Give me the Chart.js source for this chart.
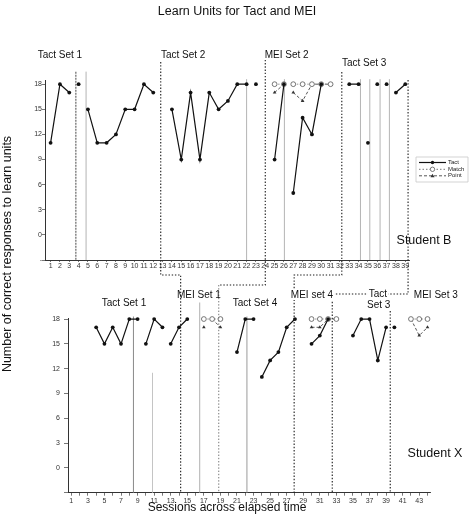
<!DOCTYPE html>
<html><head><meta charset="utf-8">
<script src="https://cdn.jsdelivr.net/npm/chart.js@4.4.1/dist/chart.umd.min.js"></script>
<style>
html,body{margin:0;padding:0;background:#fff;}
#wrap{position:relative;width:474px;height:514px;overflow:hidden;background:#fff;}
canvas{position:absolute;left:0;top:0;}
</style></head>
<body><div id="wrap"><canvas id="cB" width="474" height="514"></canvas><canvas id="cX" width="474" height="514"></canvas></div>
<script>
// ---------- DATA: Student B (top panel) ----------
const bSessions = [1,2,3,4,5,6,7,8,9,10,11,12,13,14,15,16,17,18,19,20,21,22,23,24,25,26,27,28,29,30,31,32,33,34,35,36,37,38,39];
const bTact     = [11,18,17,18,15,11,11,12,15,15,18,17,null,15,9,17,9,17,15,16,18,18,18,null,9,18,5,14,12,18,null,null,18,18,11,18,18,17,18];
const bTactBreaks = [3,4,22,26,34,35,36,37];
const bMEISessions = [25,26,27,28,29,30,31];
const bMatch = [18,18,18,18,18,18,18];
const bPoint = [17,18,17,16,18,18,18];
const bMEIBreaks = [26];
const bGrayLines = [3.7,4.8,22,26.05,34.2,35.2,36.3,37.3];
const bPhaseLines = [12.8,24,32.2,39.3];
const bXTicks = bSessions;

// ---------- DATA: Student X (bottom panel) ----------
const xTactSessions = [4,5,6,7,8,9,10,11,12,13,14,15,21,22,23,24,25,26,27,28,30,31,32,35,36,37,38,39,40];
const xTact         = [17,15,17,15,18,18,15,18,17,15,17,18,14,18,18,11,13,14,17,18,15,16,18,16,18,18,13,17,17];
const xTactBreaks = [9,12,15,23,28,32,39];
const xMEISessions = [17,18,19,30,31,32,33,42,43,44];
const xMatch = [18,18,18,18,18,18,18,18,18,18];
const xPoint = [17,18,17,17,17,18,18,18,16,17];
const xMatchBreaks = [19,33];
const xPointBreaks = [17,19,33];
const xGrayLines = [8.5,10.8,16.5,22.2];
const xPhaseLines = [14.2,18.8,27.9,32.5,39.5];

const yTicks = [-3,0,3,6,9,12,15,18];
const legendNames = ['Tact','Match','Point'];

// ---------- helpers ----------
const FONT = '"Liberation Sans", Arial, Helvetica, sans-serif';
function build(sessions, values, breaks){
  const out = [];
  sessions.forEach((s,i)=>{
    out.push({x:s, y:values[i]});
    if (breaks.includes(s)) out.push({x:s+0.5, y:null});
  });
  return out;
}
const tactStyle  = {borderColor:'#111', backgroundColor:'#111', borderWidth:1.2, pointRadius:1.9, pointStyle:'circle', pointBorderWidth:0};
const matchStyle = {borderColor:'#8a8a8a', backgroundColor:'#fff', borderWidth:0.9, borderDash:[1.5,2], pointRadius:2.4, pointStyle:'circle', pointBorderColor:'#555', pointBorderWidth:0.8};
const pointStyle = {borderColor:'#444', backgroundColor:'#333', borderWidth:0.9, borderDash:[3,2], pointRadius:2.1, pointStyle:'triangle', pointBorderWidth:0};
function ds(label, data, st){
  return Object.assign({label, data, spanGaps:false, tension:0, clip:false, fill:false}, st);
}
function txt(ctx, s, x, y, size, o={}){
  ctx.save();
  ctx.font = `${size}px ${FONT}`;
  ctx.textAlign = o.align || 'center';
  ctx.textBaseline = 'middle';
  if (o.bg){
    const w = ctx.measureText(s).width;
    ctx.fillStyle = '#fff';
    ctx.fillRect(x - w/2 - 1.5, y - size/2, w + 3, size);
  }
  ctx.fillStyle = o.color || '#111';
  if (o.rotate){ ctx.translate(x,y); ctx.rotate(o.rotate); ctx.fillText(s,0,0); }
  else ctx.fillText(s,x,y);
  ctx.restore();
}
function seg(ctx, pts, color, width, dash){
  ctx.save();
  ctx.strokeStyle = color; ctx.lineWidth = width; ctx.setLineDash(dash || []);
  ctx.beginPath();
  pts.forEach((p,i)=> i ? ctx.lineTo(p[0],p[1]) : ctx.moveTo(p[0],p[1]));
  ctx.stroke();
  ctx.restore();
}
const PHASE = '#1a1a1a', PDASH = [1.4,1.8];

function makeOptions(c){
  return {
    responsive:false, animation:false, events:[],
    devicePixelRatio: 1,
    layout:{padding:c.padding},
    plugins:{legend:{display:false}, tooltip:{enabled:false}, title:{display:false}},
    scales:{
      x:{type:'linear', position:'bottom', min:c.xmin, max:c.xmax,
         afterFit:s=>{s.height=20;},
         afterBuildTicks:s=>{s.ticks = c.xticks.map(v=>({value:v}));},
         border:{display:true,color:'#333',width:1},
         grid:{display:true, drawOnChartArea:false, drawTicks:true, tickLength:c.xtl, color:'#555', lineWidth:0.8},
         ticks:{autoSkip:false, maxRotation:0, minRotation:0, padding:c.xpad, color:'#333',
                font:{size:7, family:FONT}, callback:c.xcb}},
      y:{type:'linear', position:'left', min:-3, max:c.ymax,
         afterFit:s=>{s.width=c.yw;},
         afterBuildTicks:s=>{s.ticks = yTicks.map(v=>({value:v}));},
         border:{display:true,color:'#333',width:1},
         grid:{display:true, drawOnChartArea:false, drawTicks:true, tickLength:c.ytl, color:'#555', lineWidth:0.8},
         ticks:{autoSkip:false, padding:c.ypad, color:'#333', font:{size:7, family:FONT}, callback:c.ycb}}
    }
  };
}

// ---------- top chart decorations ----------
const decoB = {
  id:'decoB',
  beforeDatasetsDraw(chart){
    const {ctx, scales:{x,y}} = chart;
    const bottom = chart.chartArea.bottom;
    bGrayLines.forEach((s,i)=>{
      const top = i < 2 ? y.getPixelForValue(19.5) : y.getPixelForValue(18.6);
      const col = i === 0 ? '#8c8c8c' : '#b4b4b4';
      const w = i === 0 ? 1.6 : 1;
      seg(ctx, [[x.getPixelForValue(s), top],[x.getPixelForValue(s), bottom]], col, w, i===0?[2,1]:[]);
    });
  },
  afterDraw(chart){
    const {ctx, scales:{x,y}} = chart;
    // title
    txt(ctx, 'Learn Units for Tact and MEI', 237, 12, 12.5);
    // y-axis title
    txt(ctx, 'Number of correct responses to learn units', 8, 254, 12.5, {rotate:-Math.PI/2});
    // phase labels
    txt(ctx, 'Tact Set 1', x.getPixelForValue(2.0), 55, 10);
    txt(ctx, 'Tact Set 2', x.getPixelForValue(15.2), 55, 10);
    txt(ctx, 'MEI Set 2', x.getPixelForValue(26.3), 55, 10);
    txt(ctx, 'Tact Set 3', x.getPixelForValue(34.6), 63, 10);
    txt(ctx, 'Student B', 424, 241, 12.5);
    // legend
    const lx = 416, ly = 157, lw = 52, lh = 25;
    seg(ctx, [[lx,ly],[lx+lw,ly],[lx+lw,ly+lh],[lx,ly+lh],[lx,ly]], '#c8c8c8', 0.8);
    const rows = [ly+5.5, ly+12.3, ly+18.8];
    chart.data.datasets.forEach((d,i)=>{
      const yy = rows[i];
      seg(ctx, [[lx+3, yy],[lx+30, yy]], d.borderColor === '#8a8a8a' ? '#666' : d.borderColor, d.borderWidth, d.borderDash);
      ctx.save();
      ctx.fillStyle = d.backgroundColor; ctx.strokeStyle = d.pointBorderColor || d.borderColor; ctx.lineWidth = 0.8;
      ctx.beginPath();
      if (d.pointStyle === 'triangle'){ ctx.moveTo(lx+16.5, yy-2); ctx.lineTo(lx+18.5, yy+1.5); ctx.lineTo(lx+14.5, yy+1.5); ctx.closePath(); ctx.fill(); }
      else { ctx.arc(lx+16.5, yy, d.label==='Match'?2.2:1.7, 0, Math.PI*2); ctx.fill(); if (d.label==='Match') ctx.stroke(); }
      ctx.restore();
      txt(ctx, legendNames[i], lx+32, yy, 6, {align:'left', color:'#222'});
    });
  }
};

const chartB = new Chart(document.getElementById('cB'), {
  type:'line',
  data:{datasets:[
    ds('Tact',  build(bSessions, bTact, bTactBreaks), tactStyle),
    ds('Match', build(bMEISessions, bMatch, bMEIBreaks), matchStyle),
    ds('Point', build(bMEISessions, bPoint, bMEIBreaks), pointStyle)
  ]},
  options: makeOptions({padding:{left:0,top:80,right:65,bottom:234}, xmin:0.4, xmax:39.4, ymax:18.5, yw:45,
    xticks:bXTicks, xtl:2, xpad:0, ytl:3, ypad:0,
    xcb:v=>String(v), ycb:v=> v<0 ? '-' : String(v)}),
  plugins:[decoB]
});

// ---------- bottom chart decorations ----------
const xTickVals = [1,2,3,4,5,6,7,8,9,10,11,12,13,14,15,16,17,18,19,20,21,22,23,24,25,26,27,28,29,30,31,32,33,34,35,36,37,38,39,40,41,42,43,44];
const decoX = {
  id:'decoX',
  beforeDatasetsDraw(chart){
    const {ctx, scales:{x,y}} = chart;
    const bottom = chart.chartArea.bottom;
    const tops = [18.3, 11.5, 20, 18.3];
    const cols = ['#8a8a8a','#c4c4c4','#b0b0b0','#9a9a9a'];
    xGrayLines.forEach((s,i)=>{
      seg(ctx, [[x.getPixelForValue(s), y.getPixelForValue(tops[i])],[x.getPixelForValue(s), bottom]], cols[i], 1, i===2?[]:[]);
    });
  },
  afterDraw(chart){
    const {ctx, scales:{x,y}} = chart;
    const tx = chartB.scales.x, ty = chartB.scales.y;
    const tBottom = chartB.chartArea.bottom;
    const bBottom = chart.chartArea.bottom;
    const topStarts = [20.65, 20.9, 19.45, 18.5];
    const px = s => tx.getPixelForValue(s);
    const qx = s => x.getPixelForValue(s);
    // top-panel phase lines with connectors to bottom panel
    seg(ctx, [[px(bPhaseLines[0]), ty.getPixelForValue(topStarts[0])],[px(bPhaseLines[0]), tBottom+15],[qx(xPhaseLines[0]), tBottom+15],[qx(xPhaseLines[0]), bBottom]], PHASE, 1.1, PDASH);
    seg(ctx, [[px(bPhaseLines[1]), ty.getPixelForValue(topStarts[1])],[px(bPhaseLines[1]), tBottom+25],[qx(xPhaseLines[1]), tBottom+25]], PHASE, 1.1, PDASH);
    seg(ctx, [[qx(xPhaseLines[1]), tBottom+25],[qx(xPhaseLines[1]), bBottom]], '#777', 1, PDASH);
    seg(ctx, [[px(bPhaseLines[2]), ty.getPixelForValue(topStarts[2])],[px(bPhaseLines[2]), tBottom+15],[qx(xPhaseLines[2]), tBottom+15],[qx(xPhaseLines[2]), bBottom]], PHASE, 1.1, PDASH);
    seg(ctx, [[px(bPhaseLines[3]), ty.getPixelForValue(topStarts[3])],[px(bPhaseLines[3]), tBottom+34],[qx(xPhaseLines[3]), tBottom+34],[qx(xPhaseLines[3]), bBottom]], PHASE, 1.1, PDASH);
    seg(ctx, [[qx(xPhaseLines[4]), tBottom+51],[qx(xPhaseLines[4]), bBottom]], PHASE, 1.1, PDASH);
    // labels
    txt(ctx, 'Tact Set 1', qx(7.36), 303, 10);
    txt(ctx, 'MEI Set 1', qx(16.4), 295, 10);
    txt(ctx, 'Tact Set 4', qx(23.17), 303, 10);
    txt(ctx, 'MEI set 4', qx(30.05), 295, 10, {bg:true});
    txt(ctx, 'Tact', qx(38.0), 294.5, 10, {bg:true});
    txt(ctx, 'Set 3', qx(38.1), 305.5, 10, {bg:true});
    txt(ctx, 'MEI Set 3', qx(45.0), 295, 10, {bg:true});
    txt(ctx, 'Student X', 435, 454, 12.5);
    txt(ctx, 'Sessions across elapsed time', 227, 508, 12);
  }
};

const chartX = new Chart(document.getElementById('cX'), {
  type:'line',
  data:{datasets:[
    ds('Tact',  build(xTactSessions, xTact, xTactBreaks), tactStyle),
    ds('Match', build(xMEISessions, xMatch, xMatchBreaks), matchStyle),
    ds('Point', build(xMEISessions, xPoint, xPointBreaks), pointStyle)
  ]},
  options: makeOptions({padding:{left:0,top:318.2,right:44,bottom:1.3}, xmin:0.6, xmax:44.3, ymax:18.1, yw:68,
    xticks:xTickVals, xtl:3, xpad:1, ytl:4, ypad:4,
    xcb:v=> (v % 2 === 1 && v < 44) ? String(v) : '', ycb:v=> v<0 ? '' : String(v)}),
  plugins:[decoX]
});
</script>
</body></html>
